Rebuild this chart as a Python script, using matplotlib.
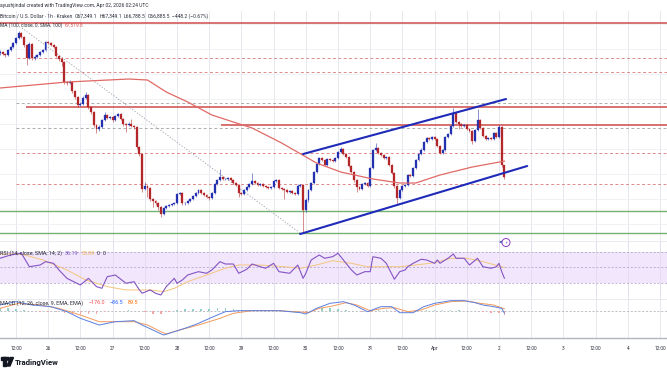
import matplotlib
matplotlib.use("Agg")
import matplotlib.pyplot as plt
from matplotlib.patches import Ellipse, Polygon, Rectangle
import numpy as np

plt.rcParams['font.family'] = ['Roboto', 'DejaVu Sans']

# ---------------- data ----------------
start_hour = 6  # first candle: Mar 25 06:00 (hours since Mar 25 00:00)
first_open = 71845
closes = [71885, 71805, 71765, 71965, 72085, 72245, 72445, 72645, 72485, 72165,
          71645, 72205, 71645, 71685, 71765, 71885, 71965, 72285, 72245, 72165,
          72085, 71725, 71605, 71485, 70685, 70645, 70685, 70325, 70085, 69765,
          69805, 70045, 70165, 69685, 69485, 68965, 68805, 68885, 69165, 69365,
          69245, 69285, 69165, 69325, 69405, 69205, 69005, 68965, 69005, 68925,
          68885, 68085, 67805, 66405, 66525, 66445, 66005, 65925, 65845, 65685,
          65405, 65645, 65725, 65765, 65805, 65845, 66205, 66245, 65845, 65845,
          65925, 66005, 66125, 66245, 66365, 66245, 66165, 66085, 66045, 66245,
          66605, 66765, 66885, 66805, 66805, 66845, 66765, 66645, 66565, 66245,
          66205, 66365, 66485, 66605, 66725, 66645, 66565, 66605, 66525, 66485,
          66445, 66485, 66725, 66765, 66445, 66405, 66365, 66285, 66325, 66245,
          66205, 66525, 66565, 65565, 65965, 66365, 66645, 67085, 67405, 67645,
          67565, 67365, 67605, 67565, 67525, 67645, 67885, 68005, 67805, 67685,
          67325, 67085, 66765, 66485, 66405, 66605, 66645, 66525, 67245, 67965,
          68045, 67845, 67765, 67645, 67685, 67365, 67045, 66525, 66045, 66365,
          66525, 66565, 66965, 66925, 67245, 67565, 67805, 67965, 68285, 68445,
          68405, 68485, 68405, 68125, 67845, 67965, 68485, 68605, 68925, 69445,
          69085, 69005, 68925, 68965, 68805, 68725, 68325, 68765, 69165, 68845,
          68525, 68405, 68445, 68405, 68645, 68485, 68885, 67349.1, 66885.5]
highs = [71960, 71920, 71850, 72010, 72130, 72290, 72500, 72720, 72690, 72520,
         72200, 72280, 72240, 71760, 71820, 71930, 72020, 72340, 72330, 72290,
         72200, 72120, 71770, 71640, 71520, 70740, 70760, 70720, 70380, 70120,
         69900, 70120, 70300, 70200, 69720, 69520, 69000, 68960, 69220, 69480,
         69400, 69340, 69330, 69380, 69460, 69440, 69240, 69060, 69080, 69200,
         68980, 68920, 68120, 67840, 66700, 66580, 66480, 66060, 65960, 65880,
         65720, 65700, 65780, 65820, 65860, 65900, 66260, 66300, 66280, 65900,
         65980, 66060, 66180, 66300, 66420, 66400, 66280, 66200, 66120, 66300,
         66660, 66820, 67200, 66940, 66860, 66900, 66880, 66800, 66680, 66600,
         66280, 66420, 66540, 66660, 67040, 66780, 66700, 66660, 66640, 66560,
         66520, 66540, 66780, 66820, 66800, 66480, 66440, 66400, 66380, 66360,
         66280, 66600, 66620, 66600, 66040, 66420, 66700, 67140, 67460, 67700,
         67700, 67600, 67660, 67640, 67600, 67700, 67940, 68080, 68040, 67840,
         67720, 67360, 67120, 66800, 66520, 66660, 66700, 66680, 67300, 68020,
         68240, 68080, 67880, 67800, 67740, 67720, 67400, 67080, 66560, 66420,
         66580, 66620, 67020, 67000, 67300, 67620, 67860, 68040, 68340, 68500,
         68480, 68540, 68520, 68440, 68160, 68020, 68540, 68660, 68980, 69640,
         69480, 69120, 69040, 69020, 69000, 68840, 68760, 68820, 69600, 69200,
         68880, 68560, 68500, 68480, 68700, 68680, 68960, 68920, 67349.1]
lows = [71780, 71760, 71700, 71740, 71930, 72050, 72210, 72400, 72440, 72100,
        71380, 71600, 71560, 71580, 71640, 71720, 71840, 71920, 72190, 72120,
        72030, 71680, 71540, 71320, 70620, 70580, 70600, 70260, 70020, 69700,
        69720, 69760, 70000, 69620, 69420, 68880, 68640, 68740, 68840, 69120,
        69200, 69200, 69100, 69120, 69280, 69160, 68940, 68700, 68920, 68880,
        68820, 68020, 67720, 66300, 66360, 66100, 65940, 65700, 65780, 65560,
        65300, 65360, 65600, 65700, 65740, 65760, 65800, 66160, 65780, 65780,
        65800, 65880, 65960, 66080, 66200, 66200, 66120, 66040, 65980, 66000,
        66200, 66560, 66720, 66760, 66760, 66780, 66720, 66600, 66520, 66080,
        66150, 66160, 66320, 66440, 66560, 66600, 66520, 66520, 66480, 66440,
        66400, 66400, 66440, 66680, 66400, 66360, 66000, 66240, 66240, 66200,
        66160, 66160, 66480, 64700, 65500, 65900, 66320, 66600, 67040, 67360,
        67520, 67320, 67320, 67520, 67480, 67480, 67600, 67840, 67760, 67640,
        67280, 67040, 66700, 66300, 66360, 66360, 66560, 66480, 66480, 67200,
        67920, 67800, 67720, 67600, 67600, 67320, 67000, 66460, 65800, 66000,
        66320, 66480, 66520, 66880, 66880, 67200, 67520, 67760, 67920, 68240,
        68360, 68360, 68360, 68080, 67800, 67800, 67920, 68440, 68560, 68880,
        69040, 68800, 68880, 68880, 68760, 68680, 68200, 68280, 68720, 68800,
        68480, 68360, 68360, 68360, 68360, 68440, 68440, 67280, 66788.5]

# 100-period SMA read at selected candles
ma_idx = [0, 25, 48, 55, 62, 70, 79, 87, 94, 105, 118, 127, 139, 149, 155, 164, 176, 188]
ma_val = [70445, 70685, 70805, 70765, 70285, 69885, 69365, 69085, 68845, 68245,
          67445, 67085, 66805, 66645, 66645, 66965, 67285, 67519.8]

# drawn levels
solid_red_levels = [73045, 69685, 68965]
solid_red_start = [6, 15.7, 88.4]
dashed_red_levels = [71645, 71085, 67845, 66605]
dashed_red_start = [12.4, 12.4, 12, 12]
gray_dashed_levels = [69845, 68845]
gray_dashed_start = [12, 12]
green_levels = [65525, 64645]
trend_hours = [14.2, 117.9]
trend_prices = [72845, 64645]
chan_up_hours = [119.0, 194.6]
chan_up_prices = [67805, 70005]
chan_lo_hours = [117.9, 202.5]
chan_lo_prices = [64605, 67325]

# RSI (14)
rsi_idx = [0, 4, 8, 11, 15, 17, 20, 22, 25, 30, 33, 36, 38, 40, 43, 47, 50, 52, 53, 56,
           58, 60, 62, 65, 66, 68, 70, 72, 74, 77, 79, 82, 84, 87, 89, 92, 94, 97, 99, 102,
           104, 108, 111, 113, 114, 116, 119, 121, 124, 126, 128, 131, 133, 136, 138, 139,
           142, 144, 147, 149, 151, 152, 154, 157, 159, 162, 163, 164, 167, 169, 170, 173,
           175, 178, 180, 183, 185, 186, 187, 188]
rsi_val = [61.9, 66.1, 68.3, 51.0, 53.2, 57.5, 55.4, 46.8, 36.0, 27.4, 36.0, 25.3, 23.1, 38.1,
           40.3, 29.6, 31.7, 21.0, 16.7, 21.0, 16.7, 14.5, 25.3, 36.0, 29.6, 33.9, 40.3, 42.5,
           44.6, 42.5, 46.8, 57.5, 54.5, 54.5, 42.5, 47.7, 54.5, 51.0, 49.0, 55.4, 44.6, 42.5,
           53.2, 36.0, 42.5, 59.7, 66.1, 61.9, 64.0, 68.3, 59.7, 46.8, 40.3, 44.6, 44.6, 63.9,
           61.9, 55.4, 34.8, 44.6, 46.8, 51.0, 55.4, 60.6, 59.7, 55.4, 59.7, 55.4, 61.9, 67.4,
           61.9, 61.9, 53.2, 61.9, 51.0, 49.0, 51.0, 55.4, 44.6, 36.19]
rsi_ma_idx = [0, 8, 16, 25, 32, 40, 47, 56, 61, 65, 70, 77, 84, 89, 97, 106, 112, 118, 124,
              131, 137, 149, 155, 162, 168, 174, 180, 188]
rsi_ma_val = [67.4, 67.4, 59.7, 46.8, 33.9, 25.3, 21.0, 21.0, 18.8, 23.1, 31.7, 40.3, 49.0,
              53.2, 53.2, 51.0, 49.0, 53.2, 58.8, 55.4, 51.0, 51.0, 53.2, 56.2, 61.9, 61.9,
              57.5, 50.09]

# MACD (12, 26, 9)
macd_idx = [0, 6, 12, 19, 25, 30, 37, 43, 50, 53, 57, 61, 65, 70, 74, 79, 84, 89, 97, 104,
            112, 114, 118, 123, 128, 132, 137, 142, 146, 149, 154, 158, 162, 168, 173, 177,
            180, 184, 187, 188]
macd_val = [250, 389, 250, 181, -28, -306, -584, -445, -403, -584, -792, -1001, -862, -681,
            -514, -264, -28, 14, 14, 14, -70, -125, 111, 320, 389, 250, -28, 181, 181, -70,
            -70, 181, 320, 431, 431, 347, 250, 181, 111, -86.5]
signal_idx = [0, 7, 15, 22, 30, 37, 45, 50, 55, 60, 62, 67, 74, 82, 87, 94, 104, 112, 115,
              119, 124, 129, 133, 138, 143, 147, 152, 157, 162, 168, 174, 179, 184, 188]
signal_val = [111, 320, 250, 111, -167, -445, -445, -445, -584, -862, -959, -792, -584, -306,
              -97, 14, 14, -42, -70, 111, 209, 347, 250, 14, 111, 139, -28, 42, 250, 389,
              417, 320, 250, 89.5]
hist_idx = [0, 3, 6, 9, 12, 15, 18, 21, 24, 27, 30, 33, 36, 39, 42, 45, 48, 51, 54, 57, 60,
            63, 66, 69, 72, 75, 78, 81, 84, 87, 90, 93, 96, 99, 102, 105, 108, 111, 114, 117,
            120, 123, 126, 129, 132, 135, 138, 141, 144, 147, 150, 153, 156, 159, 162, 165,
            168, 171, 174, 177, 180, 183, 186, 188]
hist_val = [110, 120, 90, 30, -20, -40, -30, -60, -100, -130, -140, -140, -120, -30, 20, 10,
            30, -20, -60, -110, -130, -40, 60, 90, 100, 90, 100, 120, 110, 80, 40, 10, 0, 5,
            0, -10, -30, -40, -50, 30, 110, 130, 100, 40, 0, -60, -50, 40, 50, -30, -60, -70,
            -20, 50, 60, 50, 40, 30, 20, -20, -60, -80, -100, -176]

tick_hours = list(range(12, 253, 12))
tick_labels = ["12:00", "26", "12:00", "27", "12:00", "28", "12:00", "29", "12:00", "30",
               "12:00", "31", "12:00", "Apr", "12:00", "2", "12:00", "3", "12:00", "4", "12:00"]

# ---------------- figure ----------------
W, H = 667, 374
fig = plt.figure(figsize=(W / 100, H / 100), dpi=100)
fig.patch.set_facecolor('white')

def fx(px):
    return px / W

def fy(py):
    return 1 - py / H

XLIM = (6.04, 254.6)
ax = fig.add_axes([0, fy(241), 1, (241 - 11) / H])
ax_rsi = fig.add_axes([0, fy(298), 1, (298 - 241) / H])
ax_macd = fig.add_axes([0, fy(338), 1, (338 - 298) / H])

for a in (ax, ax_rsi, ax_macd):
    a.set_xlim(*XLIM)
    a.set_facecolor('white')
    for s in a.spines.values():
        s.set_visible(False)
    a.tick_params(left=False, labelleft=False, bottom=False, labelbottom=False)
    for h in tick_hours:
        a.axvline(h, color='#e6e8ee', lw=0.7, zorder=0)

ax.set_ylim(64325.5, 73525.5)
for p in range(65000, 73600, 1000):
    ax.axhline(p, color='#eef0f4', lw=0.6, zorder=0)

# levels
for p, s in zip(solid_red_levels, solid_red_start):
    ax.hlines(p, s, XLIM[1], color='#cf4b4b', lw=1.1, zorder=2)
for p, s in zip(dashed_red_levels, dashed_red_start):
    ax.hlines(p, s, XLIM[1], color='#de8a8a', lw=0.7, linestyles=(0, (3, 2.5)), zorder=2)
for p, s in zip(gray_dashed_levels, gray_dashed_start):
    ax.hlines(p, s, XLIM[1], color='#a9b0a9', lw=0.7, linestyles=(0, (3, 2.5)), zorder=2)
for p in green_levels:
    ax.axhline(p, color='#72b272', lw=1.0, zorder=2)

ax.plot(trend_hours, trend_prices, color='#9a9ea6', lw=0.6, ls=(0, (1.5, 2)), zorder=2)

# candles
opens = [first_open] + closes[:-1]
hrs = np.arange(len(closes)) + start_hour
up_c, dn_c = '#2331b0', '#b3262a'
for h, o, hi, lo, c in zip(hrs, opens, highs, lows, closes):
    col = up_c if c >= o else dn_c
    ax.vlines(h, min(lo, o, c), max(hi, o, c), color=col, lw=0.5, alpha=0.75, zorder=3)
    ax.bar(h, max(abs(c - o), 18), bottom=min(o, c), width=0.72, color=col,
           edgecolor=col, lw=0.2, zorder=4)

# moving average
ax.plot(np.array(ma_idx) + start_hour, ma_val, color='#e06a66', lw=0.9, zorder=5)

# channel
ax.plot(chan_up_hours, chan_up_prices, color='#1f2bb8', lw=1.5, zorder=6,
        solid_capstyle='round')
ax.plot(chan_lo_hours, chan_lo_prices, color='#1f2bb8', lw=1.5, zorder=6,
        solid_capstyle='round')

# ---------------- RSI ----------------
ax_rsi.set_ylim(10.6, 84.2)
ax_rsi.axhspan(30, 70, color='#f1e6fc', zorder=0.5, lw=0)
for a_h in tick_hours:
    ax_rsi.axvline(a_h, color='#e3ddef', lw=0.7, zorder=0.6)
for lvl in (70, 50, 30):
    ax_rsi.axhline(lvl, color='#a99cc4', lw=0.5, ls=(0, (3, 2.5)), zorder=1)
ax_rsi.plot(np.array(rsi_ma_idx) + start_hour, rsi_ma_val, color='#f4c57c', lw=0.7, zorder=2)
ax_rsi.plot(np.array(rsi_idx) + start_hour, rsi_val, color='#8454c4', lw=0.8, zorder=3)
ax_rsi.axhline(84.0, color='#e6e8ee', lw=0.6)

# ---------------- MACD ----------------
ax_macd.set_ylim(-1125, 542)
ax_macd.axhline(0, color='#a5a8b0', lw=0.5, ls=(0, (3, 2.5)), zorder=1)
hcols = ['#8fd3c8' if v >= 0 else '#f2a6a6' for v in hist_val]
ax_macd.bar(np.array(hist_idx) + start_hour, hist_val, width=0.55, color=hcols, zorder=2)
ax_macd.plot(np.array(signal_idx) + start_hour, signal_val, color='#f39a5c', lw=0.7, zorder=3)
ax_macd.plot(np.array(macd_idx) + start_hour, macd_val, color='#5a7fe0', lw=0.7, zorder=4)
ax_macd.axhline(520, color='#e6e8ee', lw=0.6)
ax_macd.spines['bottom'].set_visible(True)
ax_macd.spines['bottom'].set_color('#b2b5be')
ax_macd.spines['bottom'].set_linewidth(1.0)
ax_macd.set_xticks(tick_hours)
ax_macd.set_xticklabels(tick_labels)
ax_macd.tick_params(bottom=False, labelbottom=True, labelsize=3.4, pad=2.2,
                    labelcolor='#2a2e39')

# ---------------- texts ----------------
fig.canvas.draw()
renderer = fig.canvas.get_renderer()

def rich(x_px, y_px, parts, size, gap=2.0, weight='normal'):
    x = x_px
    for s, c in parts:
        t = fig.text(fx(x), fy(y_px), s, color=c, fontsize=size, va='center', ha='left',
                     fontweight=weight)
        bb = t.get_window_extent(renderer=renderer)
        x += bb.width + gap

dark = '#2a2e39'
rich(0.5, 6, [("ayushjindal created with TradingView.com, Apr 02, 2026 02:24 UTC", dark)], 3.6)
rich(0.5, 16.5, [("Bitcoin / U.S. Dollar · 1h · Kraken", dark), ("O67,349.1", dark),
                 ("H67,349.1", dark), ("L66,788.5", dark), ("C66,885.5", dark),
                 ("\u2212448.2 (\u22120.67%)", dark)], 3.6)
rich(0.5, 25.5, [("MA (100, close, 0, SMA, 100)", dark), ("67,519.8", '#d9534f')], 3.5)
rich(0.5, 253.5, [("RSI (14, close, SMA, 14, 2)", dark), ("36.19", '#7e57c2'),
                  ("50.09", '#f0b04a'), ("0", dark), ("0", dark)], 3.9, gap=2.6)
rich(0.5, 303, [("MACD (12, 26, close, 9, EMA, EMA)", dark), ("\u2212176.0", '#ef5350'),
                ("\u221286.5", '#2962ff'), ("89.5", '#ff6d00')], 3.9, gap=4.5)

# TradingView logo
logo = '#131722'
fig.patches.append(Rectangle((fx(0.5), fy(360)), fx(5.5), 2.6 / H, transform=fig.transFigure,
                             color=logo))
fig.patches.append(Rectangle((fx(3), fy(366)), fx(3), 8.6 / H, transform=fig.transFigure,
                             color=logo))
fig.patches.append(Ellipse((fx(8.1), fy(358.8)), 2.8 / W, 2.8 / H, transform=fig.transFigure,
                           color=logo))
fig.patches.append(Polygon([(fx(7), fy(366)), (fx(10.5), fy(357.5)), (fx(13.5), fy(357.5)),
                            (fx(10), fy(366))], closed=True, transform=fig.transFigure,
                           color=logo))
fig.text(fx(15), fy(362), "TradingView", fontsize=5.6, fontweight='bold', color=logo,
         va='center', ha='left')

# event marker
fig.patches.append(Ellipse((fx(506), fy(242.5)), 8 / W, 8 / H, transform=fig.transFigure,
                           facecolor='white', edgecolor='#8e3fc0', lw=0.7, zorder=10))
fig.text(fx(506), fy(242.8), "\u26a1", fontsize=3.2, color='#8e3fc0', ha='center',
         va='center', family='DejaVu Sans', zorder=11)
fig.text(fx(500.5), fy(242.5), "\u25c0", fontsize=2.6, color='#3f51b5', ha='center',
         va='center', family='DejaVu Sans', zorder=11)

fig.savefig('out.png', dpi=100, facecolor='white')
